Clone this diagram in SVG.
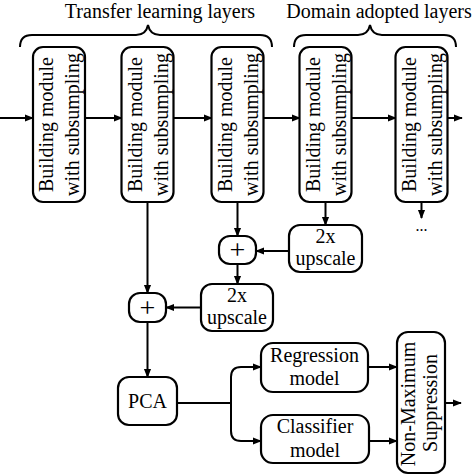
<svg xmlns="http://www.w3.org/2000/svg" width="474" height="475" viewBox="0 0 474 475">
<defs>
<marker id="a" viewBox="0 0 10 10" refX="9" refY="5" markerWidth="9" markerHeight="9" markerUnits="userSpaceOnUse" orient="auto"><path d="M0,1 L10,5 L0,9 z" fill="#000"/></marker>
<style>
.box{fill:#fff;stroke:#000;stroke-width:2.2}
.t{font-family:"Liberation Serif","Times New Roman",serif;font-size:20px;fill:#000;text-anchor:middle}
.pl{font-size:28px}
.c{fill:none;stroke:#000;stroke-width:2}
.ar{marker-end:url(#a)}
</style>
</defs>
<g id="braces">
<path class="c" d="M20,47 Q20,35 32,35 H136 Q146,35 148,25 Q150,35 160,35 H260 Q272,35 272,47"/>
<path class="c" d="M294,47 Q294,35 306,35 H358 Q368,35 370,25 Q372,35 382,35 H444 Q456,35 456,47"/>
<text class="t" x="160" y="18">Transfer learning layers</text>
<text class="t" x="379" y="18">Domain adopted layers</text>
</g>
<g id="connectors">
<path class="c ar" d="M0,118 H33"/>
<path class="c ar" d="M85,118 H122"/>
<path class="c ar" d="M173,118 H212"/>
<path class="c ar" d="M263,118 H300"/>
<path class="c ar" d="M351,118 H396"/>
<path class="c ar" d="M447,118 H462"/>
<path class="c ar" d="M421.5,202 V218"/>
<path class="c ar" d="M237.5,202 V236"/>
<path class="c ar" d="M325.5,202 V225"/>
<path class="c ar" d="M289,251 H256"/>
<path class="c ar" d="M237.5,264 V284"/>
<path class="c ar" d="M201,307.5 H166"/>
<path class="c ar" d="M147.5,202 V293"/>
<path class="c ar" d="M147.5,322 V377"/>
<path class="c ar" d="M177,403 H231 V377 Q231,367 241,367 H261"/>
<path class="c ar" d="M231,403 V431 Q231,441 241,441 H261"/>
<path class="c ar" d="M368,367 H397"/>
<path class="c ar" d="M369,441 H397"/>
<path class="c ar" d="M445,403 H461"/>
</g>
<g id="bm1"><rect class="box" x="33" y="47" width="52" height="155" rx="10"/>
<text class="t" transform="translate(52.5,124.5) rotate(-90)">Building module</text>
<text class="t" transform="translate(78.5,124.5) rotate(-90)">with subsumpling</text></g>
<g id="bm2"><rect class="box" x="121.5" y="47" width="52" height="155" rx="10"/>
<text class="t" transform="translate(141.5,124.5) rotate(-90)">Building module</text>
<text class="t" transform="translate(167.5,124.5) rotate(-90)">with subsumpling</text></g>
<g id="bm3"><rect class="box" x="211.5" y="47" width="52" height="155" rx="10"/>
<text class="t" transform="translate(231.5,124.5) rotate(-90)">Building module</text>
<text class="t" transform="translate(257.5,124.5) rotate(-90)">with subsumpling</text></g>
<g id="bm4"><rect class="box" x="299.5" y="47" width="52" height="155" rx="10"/>
<text class="t" transform="translate(319.5,124.5) rotate(-90)">Building module</text>
<text class="t" transform="translate(345.5,124.5) rotate(-90)">with subsumpling</text></g>
<g id="bm5"><rect class="box" x="395.5" y="47" width="52" height="155" rx="10"/>
<text class="t" transform="translate(415.5,124.5) rotate(-90)">Building module</text>
<text class="t" transform="translate(441.5,124.5) rotate(-90)">with subsumpling</text></g>
<g id="dots"><text class="t" style="font-size:16px" x="421.5" y="231">...</text></g>
<g id="plus1"><rect class="box" x="219" y="236" width="37" height="28" rx="11"/><text class="t pl" x="237.5" y="259">+</text></g>
<g id="up1"><rect class="box" x="289" y="225" width="73" height="47" rx="11"/>
<text class="t" x="325.5" y="243">2x</text><text class="t" x="325.5" y="265">upscale</text></g>
<g id="up2"><rect class="box" x="201" y="284" width="72" height="47" rx="11"/>
<text class="t" x="237" y="302">2x</text><text class="t" x="237" y="324">upscale</text></g>
<g id="plus2"><rect class="box" x="129" y="293" width="37" height="29" rx="11"/><text class="t pl" x="147.5" y="316.5">+</text></g>
<g id="pca"><rect class="box" x="118" y="377" width="59" height="48" rx="11"/><text class="t" x="147.5" y="408">PCA</text></g>
<g id="reg"><rect class="box" x="261" y="343" width="107" height="49" rx="12"/>
<text class="t" x="314.5" y="362">Regression</text><text class="t" x="314.5" y="385">model</text></g>
<g id="cls"><rect class="box" x="261" y="415" width="108" height="48" rx="12"/>
<text class="t" x="315" y="433">Classifier</text><text class="t" x="315" y="457">model</text></g>
<g id="nms"><rect class="box" x="397" y="332" width="48" height="141" rx="11"/>
<text class="t" transform="translate(415,404) rotate(-90)">Non-Maximum</text>
<text class="t" transform="translate(437,403) rotate(-90)">Suppression</text></g>
</svg>
